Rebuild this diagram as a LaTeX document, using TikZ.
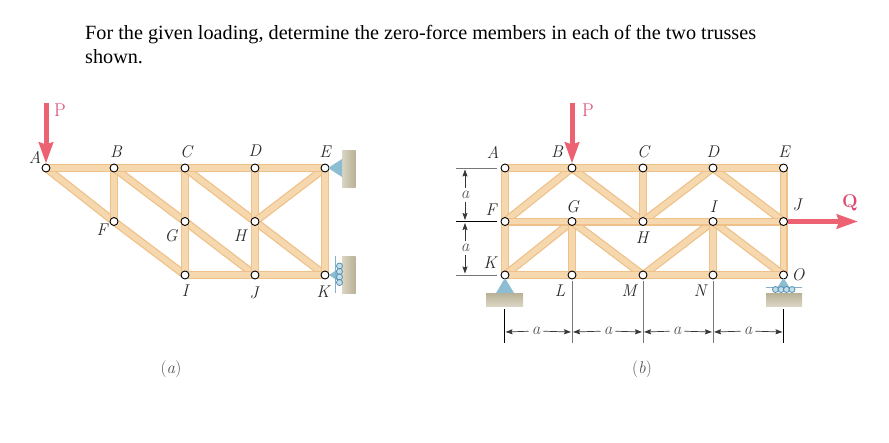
\documentclass[tikz,border=0pt]{standalone}
\usepackage{fontspec}
\newfontfamily\titlefont{Liberation Serif}
\usetikzlibrary{arrows.meta,backgrounds}
\definecolor{woodedge}{HTML}{EFC08A}
\definecolor{woodfill}{HTML}{F6D8AE}
\definecolor{loadred}{HTML}{EC6273}
\definecolor{labred}{HTML}{DC4A72}
\definecolor{supblue}{HTML}{8CBDD2}
\definecolor{rollblue}{HTML}{4F8FB0}
\definecolor{gndA}{HTML}{B9B196}
\definecolor{gndB}{HTML}{DAD5C2}
\definecolor{inkc}{HTML}{2A2A2A}
\definecolor{dimg}{HTML}{777777}
\tikzset{
  x=1pt,y=-1pt,
  pin/.style={circle,draw=black,fill=white,line width=0.9pt,minimum size=8pt,inner sep=0pt},
  lab/.style={font=\fontsize{17}{20}\itshape\selectfont,text=inkc,inner sep=0pt},
  dimlab/.style={font=\fontsize{17}{20}\itshape\selectfont,text=inkc!80,inner sep=3pt},
  capt/.style={font=\fontsize{17}{20}\selectfont,text=inkc!80,inner sep=0pt},
  load/.style={draw=loadred,line width=5pt,-{Stealth[length=21pt,width=14pt,inset=2pt]}},
  loadlab/.style={font=\fontsize{18.5}{22}\selectfont,text=labred,inner sep=0pt},
  loadlabb/.style={font=\fontsize{18.5}{22}\bfseries\selectfont,text=labred,inner sep=0pt},
  dima/.style={draw=dimg!45!black,line width=0.7pt,-{Stealth[length=7pt,width=5pt,inset=1pt]}},
  tick/.style={draw=dimg,line width=0.7pt},
  tickk/.style={draw=black,line width=0.9pt},
  sup/.style={fill=supblue,draw=none},
  roller/.style={circle,draw=rollblue,line width=0.8pt,fill=supblue!50,minimum size=6pt,inner sep=0pt},
  member/.style={line width=8pt,draw=woodedge,postaction={draw=woodfill,line width=5.5pt}},
}
\begin{document}
\begin{tikzpicture}
\useasboundingbox (0,0) rectangle (889,442);
% title
\node[anchor=base west,align=left,inner sep=0pt,font=\titlefont\fontsize{20.2}{24}\selectfont,text=black] (title) at (85,63)
  {For the given loading, determine the zero-force members in each of the two trusses\\shown.};

% ---- truss (a) joints
\foreach \n/\x/\y in {aA/46/168,aB/114/168,aC/185/168,aD/255/168,aE/325/168,
  aF/114/221.5,aG/185/221.5,aH/255/221.5,aI/185/275,aJ/255/275,aK/325/275}
  \node[pin] (\n) at (\x,\y) {};
% ---- truss (b) joints
\foreach \n/\x/\y in {bA/505/168,bB/572/168,bC/643/168,bD/713/168,bE/783.5/168,
  bF/505/221.5,bG/572/221.5,bH/643/221.5,bI/713/221.5,bJ/783.5/221.5,
  bK/505/275,bL/572/275,bM/643/275,bN/713/275,bO/783.5/275}
  \node[pin] (\n) at (\x,\y) {};

\begin{pgfonlayer}{background}
  \foreach \p/\q in {aA/aF,aF/aI,aB/aF,aB/aG,aG/aJ,aC/aI,aC/aH,aH/aK,aD/aJ,aE/aH,aE/aK,aA/aE,aI/aK,
    bA/bK,bE/bO,bB/bF,bG/bK,bB/bH,bC/bH,bG/bL,bG/bM,bD/bH,bI/bM,bI/bN,bD/bJ,bI/bO,bA/bE,bF/bJ,bK/bO}
    \draw[member] (\p.center) -- (\q.center);
\end{pgfonlayer}

% ---- supports (a)
\shade[bottom color=gndA,top color=gndB,shading angle=90] (342,150) rectangle (355.5,187);
\shade[bottom color=gndA,top color=gndB,shading angle=90] (342,256) rectangle (355.5,293);
\path[sup] (328,168) -- (342,159) -- (342,177) -- cycle;
\path[sup] (329,275) -- (338,269) -- (338,281) -- cycle;
\coordinate (wa1) at (335.5,256); \coordinate (wa2) at (335.5,293);
\draw[rollblue!70,line width=0.5pt] (wa1) -- (wa2);
\foreach \n/\y in {ra1/266,ra2/271.5,ra3/277,ra4/282.5}
  \node[roller] (\n) at (339.5,\y) {};

% ---- supports (b)
\shade[top color=gndA,bottom color=gndB] (486,293) rectangle (523,306);
\path[sup] (505,278) -- (514,293) -- (496,293) -- cycle;
\shade[top color=gndA,bottom color=gndB] (766,293) rectangle (802,306);
\path[sup] (783.5,278) -- (790,288) -- (777,288) -- cycle;
\coordinate (wb1) at (766,287.5); \coordinate (wb2) at (802,287.5);
\draw[rollblue!70,line width=0.5pt] (wb1) -- (wb2);
\foreach \n/\x in {rb1/775.5,rb2/781,rb3/786.5,rb4/792}
  \node[roller] (\n) at (\x,289.5) {};

% ---- loads
\coordinate (pa) at (46,103);
\coordinate (pb) at (572,103);
\coordinate (qe) at (858,221.5);
\draw[load] (pa) -- (aA);
\draw[load] (pb) -- (bB);
\draw[load] (bJ) -- (qe);
\node[loadlab] (lpa) at (60,110) {P};
\node[loadlab] (lpb) at (588,110) {P};
\node[loadlabb] (lq) at (850,203) {Q};

% ---- joint labels
\foreach \n/\t/\x/\y in {la/A/35/157,lb/B/116/152,lc/C/186/152,ld/D/255/151,le/E/325/152,
  lf/F/102/230,lg/G/171/236,lh/H/240/236,li/I/185/291,lj/J/254/293,lk/K/323/292,
  ma/A/493/152,mb/B/557/152,mc/C/643/152,md/D/713/152,me/E/784/152,
  mf/F/491/210,mg/G/572.5/207,mh/H/642/238,mi/I/713/207,mj/J/797/205,
  mk/K/490/263,ml/L/560/291,mm/M/629/291,mn/N/700/291,mo/O/798/275}
  \node[lab] (\n) at (\x,\y) {\t};

% ---- captions
\node[capt] (capa) at (171,369) {(\textit{a})};
\node[capt] (capb) at (642,369) {(\textit{b})};

% ---- left dimensions of (b)
\coordinate (h1l) at (456,168); \coordinate (h1r) at (497,168);
\coordinate (h2l) at (456,221.5); \coordinate (h2r) at (497,221.5);
\coordinate (h3l) at (456,275); \coordinate (h3r) at (497,275);
\draw[tick] (h1l) -- (h1r);
\draw[tickk] (h2l) -- (h2r);
\draw[tick] (h3l) -- (h3r);
\node[dimlab] (va1) at (465,195) {a};
\node[dimlab] (va2) at (465,248) {a};
\coordinate (v1) at (465,169.5); \coordinate (v2a) at (465,220); \coordinate (v2b) at (465,223); \coordinate (v3) at (465,273.5);
\draw[dima] (va1) -- (v1);
\draw[dima] (va1) -- (v2a);
\draw[dima] (va2) -- (v2b);
\draw[dima] (va2) -- (v3);

% ---- bottom dimensions of (b)
\coordinate (t1a) at (504.5,309); \coordinate (t1b) at (504.5,343);
\coordinate (t2a) at (572,281); \coordinate (t2b) at (572,343);
\coordinate (t3a) at (643,281); \coordinate (t3b) at (643,343);
\coordinate (t4a) at (713,281); \coordinate (t4b) at (713,343);
\coordinate (t5a) at (783.5,309); \coordinate (t5b) at (783.5,343);
\draw[tickk] (t1a) -- (t1b);
\draw[tick] (t2a) -- (t2b);
\draw[tick] (t3a) -- (t3b);
\draw[tick] (t4a) -- (t4b);
\draw[tickk] (t5a) -- (t5b);
\foreach \n/\x/\l/\r in {d1/536/505.5/571,d2/608/573/642,d3/677/644/712,d4/748/714/782.5}{
  \node[dimlab] (\n) at (\x,331) {a};
  \coordinate (\n l) at (\l,332);
  \coordinate (\n r) at (\r,332);
  \draw[dima] (\n) -- (\n l);
  \draw[dima] (\n) -- (\n r);
}
\end{tikzpicture}
\end{document}
